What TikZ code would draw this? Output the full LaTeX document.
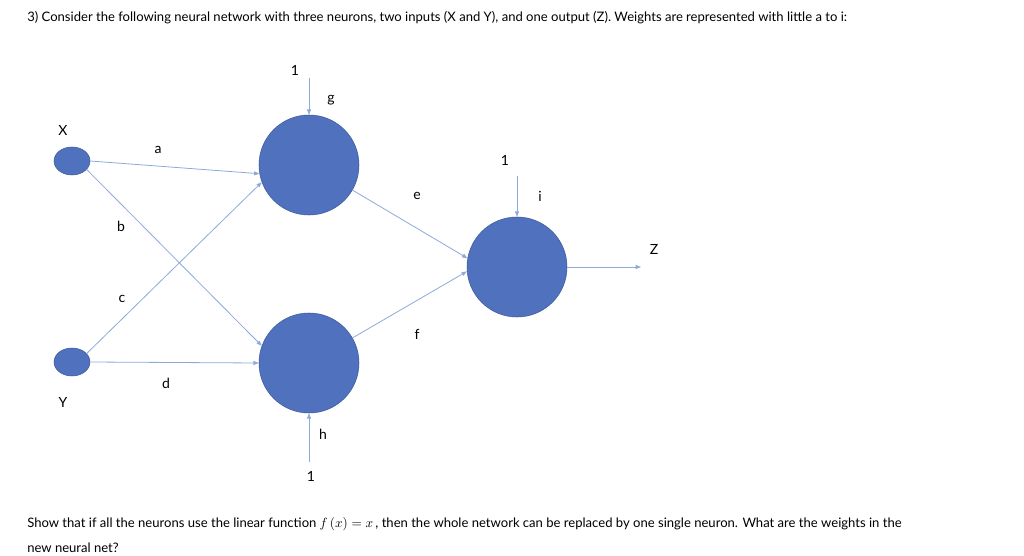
\documentclass[tikz,border=0pt]{standalone}
\usepackage{fontspec}
\setmainfont{Lato}
\usetikzlibrary{arrows.meta,shapes.geometric}
\definecolor{nfill}{HTML}{4F71BE}
\definecolor{nline}{HTML}{8EA9D8}
\begin{document}
\begin{tikzpicture}[x=0.75pt,y=-0.75pt,
  neuron/.style={circle,fill=nfill,draw=nfill!80!black,line width=0.4pt,minimum size=75pt,inner sep=0pt},
  inp/.style={ellipse,fill=nfill,draw=nfill!80!black,line width=0.4pt,minimum width=27pt,minimum height=21pt,inner sep=0pt},
  conn/.style={draw=nline,line width=0.6pt,-{Triangle[length=4pt,width=3pt]}},
  lab/.style={font=\fontsize{10.5pt}{12pt}\selectfont,inner sep=0pt},
  txt/.style={font=\fontsize{9.8pt}{12pt}\selectfont,inner sep=0pt,anchor=west}]
\useasboundingbox (0,0) rectangle (1024,556);
\node[txt] (t1) at (27,18) {3) Consider the following neural network with three neurons, two inputs (X and Y), and one output (Z). Weights are represented with little a to i:};
\node[inp] (X) at (72,161) {};
\node[inp] (Y) at (72,362) {};
\node[neuron] (N1) at (309,165) {};
\node[neuron] (N2) at (309,363) {};
\node[neuron] (N3) at (517,267) {};
\node[lab] (lx) at (63,130) {X};
\node[lab] (ly) at (63,402) {Y};
\coordinate (b1) at (309,78);
\coordinate (b2) at (309,462);
\coordinate (b3) at (517,176);
\coordinate (zout) at (641,267);
\draw[conn] (X.east) -- (N1.190);
\draw[conn] (X.-30) -- (N2.160);
\draw[conn] (Y.30) -- (N1.200);
\draw[conn] (Y.east) -- (N2.west);
\draw[conn] (N1.-30) -- (N3.170);
\draw[conn] (N2.30) -- (N3.185);
\draw[conn] (b1) -- (N1.north);
\draw[conn] (b2) -- (N2.south);
\draw[conn] (b3) -- (N3.north);
\draw[conn] (N3.east) -- (zout);
\node[lab] (la) at (158,150) {a};
\node[lab] (lb) at (121,226) {b};
\node[lab] (lc) at (122,299) {c};
\node[lab] (ld) at (166,383) {d};
\node[lab] (le) at (417,196) {e};
\node[lab] (lf) at (417,334) {f};
\node[lab] (lg) at (331,100) {g};
\node[lab] (lh) at (323,434) {h};
\node[lab] (li) at (540,196) {i};
\node[lab] (l1a) at (295,70) {1};
\node[lab] (l1b) at (311,476) {1};
\node[lab] (l1c) at (505,160) {1};
\node[lab] (lz) at (654,249) {Z};
\node[txt] (t2) at (27,524) {Show that if all the neurons use the linear function $f\,(x)=x$\,, then the whole network can be replaced by one single neuron. What are the weights in the};
\node[txt] (t3) at (27,548) {new neural net?};
\end{tikzpicture}
\end{document}
